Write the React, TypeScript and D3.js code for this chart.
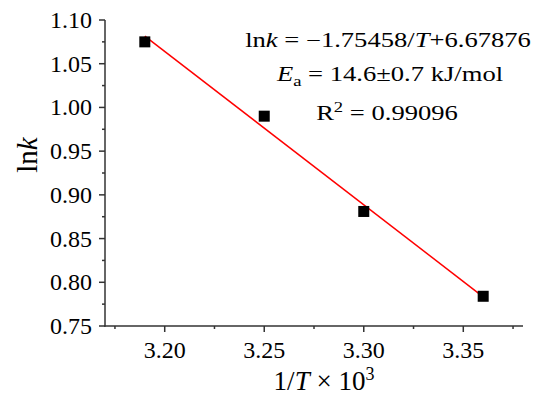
import React from "react";
import * as d3 from "d3";

const xValues = [3.19, 3.25, 3.3, 3.36];
const lnkValues = [1.075, 0.99, 0.881, 0.784];
const fitSlope = -1.75458;
const fitIntercept = 6.67876;
const fitRange = [3.19, 3.36];
const xTicks = [3.2, 3.25, 3.3, 3.35];
const xMinorTicks = [3.175, 3.225, 3.275, 3.325, 3.375];
const yTicks = [0.75, 0.8, 0.85, 0.9, 0.95, 1.0, 1.05, 1.1];
const yMinorTicks = [0.775, 0.825, 0.875, 0.925, 0.975, 1.025, 1.075];

const W = 550;
const H = 403;
const font = "'Liberation Serif', 'Times New Roman', serif";

export default function App() {
  const x = d3.scaleLinear().domain([3.17, 3.38]).range([105, 523]);
  const y = d3.scaleLinear().domain([0.75, 1.1]).range([326, 20]);
  const [x0, x1] = x.range();
  const [yb, yt] = y.range();
  const axisColor = "#333";
  const line = d3
    .line<number>()
    .x((d) => x(d))
    .y((d) => y(fitSlope * d + fitIntercept));
  const sq = 11;
  const annX = 388;
  const sx = 1.33;
  return (
    <svg
      width={W}
      height={H}
      style={{ position: "absolute", left: 0, top: 0, background: "#fff" }}
      fontFamily={font}
    >
      {/* axes */}
      <line x1={x0} x2={x0} y1={yb + 0.75} y2={yt} stroke={axisColor} strokeWidth={1.5} />
      <line x1={x0 - 0.75} x2={x1} y1={yb} y2={yb} stroke={axisColor} strokeWidth={1.5} />
      {yTicks.map((t) => (
        <g key={"yt" + t}>
          <line x1={x0 - 6} x2={x0} y1={y(t)} y2={y(t)} stroke={axisColor} strokeWidth={1.5} />
          <text x={92} y={y(t) + 8} fontSize={24} textAnchor="end" fill="#000">
            {d3.format(".2f")(t)}
          </text>
        </g>
      ))}
      {yMinorTicks.map((t) => (
        <line key={"ym" + t} x1={x0 - 3} x2={x0} y1={y(t)} y2={y(t)} stroke={axisColor} strokeWidth={1.5} />
      ))}
      {xTicks.map((t) => (
        <g key={"xt" + t}>
          <line x1={x(t)} x2={x(t)} y1={yb} y2={yb + 6} stroke={axisColor} strokeWidth={1.5} />
          <text x={x(t)} y={358} fontSize={24} textAnchor="middle" fill="#000">
            {d3.format(".2f")(t)}
          </text>
        </g>
      ))}
      {xMinorTicks.map((t) => (
        <line key={"xm" + t} x1={x(t)} x2={x(t)} y1={yb} y2={yb + 3} stroke={axisColor} strokeWidth={1.5} />
      ))}
      {/* axis titles */}
      <text x={324} y={390} fontSize={27} textAnchor="middle" fill="#000">
        1/<tspan fontStyle="italic">T</tspan> × 10
        <tspan fontSize={18} dy={-10}>3</tspan>
      </text>
      <text
        transform="translate(37,155) rotate(-90)"
        fontSize={29}
        textAnchor="middle"
        fill="#000"
      >
        ln<tspan fontStyle="italic">k</tspan>
      </text>
      {/* fit line */}
      <path d={line(fitRange) || ""} stroke="#ff0000" strokeWidth={1.5} fill="none" />
      {/* points */}
      {xValues.map((v, i) => (
        <rect
          key={"p" + i}
          x={x(v) - sq / 2}
          y={y(lnkValues[i]) - sq / 2}
          width={sq}
          height={sq}
          fill="#000"
        />
      ))}
      {/* annotation */}
      <g transform={`translate(${annX},47) scale(${sx},1)`}>
        <text x={0} y={0} fontSize={20} textAnchor="middle" fill="#000">
          ln<tspan fontStyle="italic">k</tspan> = −1.75458/<tspan fontStyle="italic">T</tspan>+6.67876
        </text>
      </g>
      <g transform={`translate(${annX + 2},81) scale(${sx},1)`}>
        <text x={0} y={0} fontSize={20} textAnchor="middle" fill="#000">
          <tspan fontStyle="italic">E</tspan>
          <tspan fontSize={14} dy={5}>a</tspan>
          <tspan dy={-5}> = 14.6±0.7 kJ/mol</tspan>
        </text>
      </g>
      <g transform={`translate(${annX - 1},120) scale(${sx},1)`}>
        <text x={0} y={0} fontSize={20} textAnchor="middle" fill="#000">
          R<tspan fontSize={14} dy={-8}>2</tspan>
          <tspan dy={8}> = 0.99096</tspan>
        </text>
      </g>
    </svg>
  );
}
